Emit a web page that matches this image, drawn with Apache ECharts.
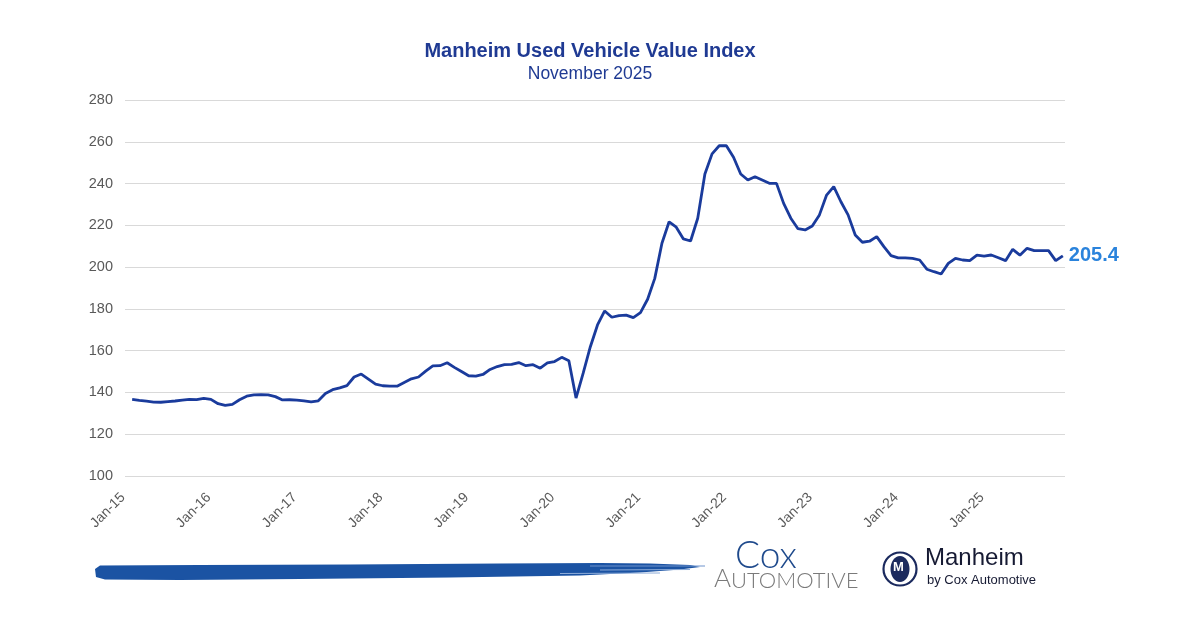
<!DOCTYPE html>
<html>
<head>
<meta charset="utf-8">
<script src="https://cdn.jsdelivr.net/npm/echarts@6/dist/echarts.min.js"></script>
<style>
html,body{margin:0;padding:0;background:#fff;}
#chart{width:1200px;height:630px;}
</style>
</head>
<body>
<div id="chart"></div>
<script>
// Monthly index values, Jan-15 .. Nov-25
const v2015 = [136.7,136.2,135.8,135.4,135.3,135.6,135.9,136.3,136.7,136.6,137.2,136.7];
const v2016 = [134.6,133.8,134.3,136.5,138.2,138.8,138.9,138.8,138.0,136.4,136.5,136.3];
const v2017 = [136.0,135.5,136.0,139.5,141.3,142.2,143.3,147.4,148.8,146.4,144.0,143.2];
const v2018 = [143.0,143.0,144.8,146.5,147.4,150.2,152.7,152.8,154.2,152.0,150.0,148.0];
const v2019 = [147.8,148.6,151.0,152.4,153.3,153.4,154.3,152.8,153.3,151.6,154.1,154.8];
const v2020 = [156.8,155.2,137.3,149.2,161.9,172.3,179.0,176.0,176.8,177.0,175.8,178.2];
const v2021 = [184.6,194.6,211.4,221.7,219.1,213.5,212.5,223.4,244.6,254.2,258.1,258.1];
const v2022 = [252.6,244.6,241.7,243.3,241.7,240.1,240.1,230.5,223.4,218.4,217.8,219.7];
const v2023 = [225.0,234.5,238.5,231.3,225.0,215.4,211.9,212.4,214.6,209.8,205.5,204.4];
const v2024 = [204.4,204.2,203.4,199.0,197.8,196.7,201.8,204.2,203.4,203.1,205.7,205.3];
const v2025 = [205.8,204.5,203.1,208.5,205.7,209.0,207.9,207.9,207.9,203.1,205.4];

const xTickLabels = ['Jan-15','Jan-16','Jan-17','Jan-18','Jan-19','Jan-20','Jan-21','Jan-22','Jan-23','Jan-24','Jan-25'];
const yTicks = [100,120,140,160,180,200,220,240,260,280];

const titleText = 'Manheim Used Vehicle Value Index';
const subtitleText = 'November 2025';

const values = [].concat(v2015,v2016,v2017,v2018,v2019,v2020,v2021,v2022,v2023,v2024,v2025);
const seriesData = values.map((v,i)=>[i,v]);
const lastValue = values[values.length-1];

const chart = echarts.init(document.getElementById('chart'), null, {renderer:'canvas'});
const FONT = '"Liberation Sans", Arial, sans-serif';
const navy = '#1f3a93';

chart.setOption({
  animation:false,
  backgroundColor:'#ffffff',
  title:{
    text:titleText,
    subtext:subtitleText,
    left:585,
    textAlign:'center',
    top:36,
    itemGap:4,
    textStyle:{fontFamily:FONT,fontSize:20,fontWeight:'bold',color:navy},
    subtextStyle:{fontFamily:FONT,fontSize:17.5,color:navy}
  },
  grid:{left:125,right:135,top:100,bottom:154},
  xAxis:{
    type:'value',
    min:-1,
    max:130.3,
    interval:1,
    axisLine:{show:false},
    axisTick:{show:false},
    splitLine:{show:false},
    axisLabel:{
      rotate:45,
      margin:10,
      padding:[0,13,0,0],
      fontFamily:FONT,
      fontSize:14,
      color:'#595959',
      showMinLabel:true,
      showMaxLabel:false,
      formatter:function(v){
        if (Math.abs(v - Math.round(v))>1e-6) return '';
        const r = Math.round(v);
        if (r>=0 && r%12===0 && xTickLabels[r/12]) return xTickLabels[r/12];
        return '';
      }
    }
  },
  yAxis:{
    type:'value',
    min:yTicks[0],
    max:yTicks[yTicks.length-1],
    interval:20,
    axisLine:{show:false},
    axisTick:{show:false},
    splitLine:{lineStyle:{color:'#d9d9d9',width:1}},
    axisLabel:{fontFamily:FONT,fontSize:14.5,color:'#595959',margin:12}
  },
  series:[{
    type:'line',
    data:seriesData,
    showSymbol:false,
    symbol:'none',
    lineStyle:{color:'#1a3b9c',width:2.8},
    endLabel:{
      show:true,
      distance:6,
      formatter:function(){return lastValue.toFixed(1);},
      fontFamily:FONT,
      fontSize:20,
      fontWeight:'bold',
      color:'#2a83dc'
    }
  }],
  graphic:[
    {type:'polygon',shape:{points:[[100,565.5],[200,565],[350,564.5],[500,563.5],[600,563],[650,563.5],[690,565],[700,567],[680,569.5],[640,572.5],[580,575.5],[450,577.5],[300,579],[180,580],[105,579.5],[96,577],[95,569]]},style:{fill:'#1b53a3'}},
    {type:'polyline',shape:{points:[[590,566],[705,566]]},style:{stroke:'#6f93cc',lineWidth:1}},
    {type:'polyline',shape:{points:[[600,570],[690,569.5]]},style:{stroke:'#8fadd9',lineWidth:1}},
    {type:'polyline',shape:{points:[[560,573.5],[660,573]]},style:{stroke:'#8fadd9',lineWidth:1}},
    {type:'text',left:735,top:538,style:{text:'Cox',font:'300 37px Lato, "Open Sans", sans-serif',fill:'#1f4a8c'}},
    {type:'text',left:714,top:566,style:{text:'{a|A}{b|UTOMOTIVE}',rich:{a:{font:'300 26px Lato, "Open Sans", sans-serif',fill:'#7a7a7a',verticalAlign:'bottom'},b:{font:'300 22px Lato, "Open Sans", sans-serif',fill:'#7a7a7a',verticalAlign:'bottom'}}}},
    {type:'circle',shape:{cx:900,cy:569,r:16.5},style:{fill:'#ffffff',stroke:'#1b2a5e',lineWidth:2.2}},
    {type:'ellipse',shape:{cx:900,cy:569,rx:9.5,ry:13},style:{fill:'#1b2a5e'}},
    {type:'text',left:893,top:561,style:{text:'M',font:'bold 13px "Liberation Sans", Arial, sans-serif',fill:'#ffffff'}},
    {type:'text',left:925,top:546,style:{text:'Manheim',font:'24px "Liberation Sans", Arial, sans-serif',fill:'#161a33'}},
    {type:'text',left:927,top:574,style:{text:'by Cox Automotive',font:'13px "Liberation Sans", Arial, sans-serif',fill:'#161a33'}}
  ]
});
</script>
</body>
</html>
